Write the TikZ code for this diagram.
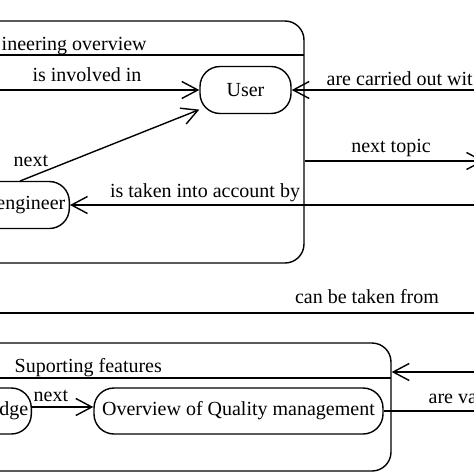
\documentclass[tikz,border=0pt]{standalone}
\usepackage{fontspec}
\setmainfont{Liberation Serif}
\usetikzlibrary{arrows.meta}
\begin{document}
\begin{tikzpicture}[x=1pt,y=-1pt, line width=1.4pt,
  txt/.style={font=\fontsize{20}{24}\selectfont, inner sep=0pt},
  state/.style={draw, rounded corners=20pt, font=\fontsize{20}{24}\selectfont, inner sep=0pt, minimum height=47pt},
  box/.style={draw, rounded corners=19pt, inner sep=0pt},
  arr/.style={-{Straight Barb[length=16pt,width=17pt]}}]
\useasboundingbox (0,0) rectangle (474,474);
\clip (0,0) rectangle (474,474);
% top container
\node[box, minimum width=404pt, minimum height=242pt] (topbox) at (102,142) {};
\coordinate (s1a) at (-100,55);
\coordinate (s1b) at (304,55);
\draw (s1a) -- (s1b);
\node[txt, anchor=base west] (t1) at (1,50) {ineering overview};
% bottom container
\node[box, minimum width=491pt, minimum height=128pt] (botbox) at (145.5,407) {};
\coordinate (s2a) at (-100,378);
\coordinate (s2b) at (391,378);
\draw (s2a) -- (s2b);
\node[txt, anchor=base west] (t2) at (14,372) {Suporting features};
% states
\node[state, minimum width=91pt] (user) at (245.5,90) {User};
\node[state, anchor=east, inner xsep=4pt] (eng) at (70,205) {\hspace*{40pt}engineer};
\node[state, anchor=east, inner xsep=3pt, minimum height=46pt] (dge) at (32,411) {\hspace*{40pt}dge};
\node[state, minimum width=289pt, minimum height=46pt] (qm) at (238.5,411) {Overview of Quality management};
% free ends
\coordinate (iv) at (-10,90);
\coordinate (co) at (480,90);
\coordinate (nt) at (484,161);
\coordinate (ta) at (480,205);
\coordinate (cb1) at (-10,313);
\coordinate (cb2) at (484,313);
\coordinate (va1) at (480,372);
\coordinate (va2) at (480,411);
\coordinate (nx) at (20,181);
% connectors
\draw[arr] (iv) -- (user.west);
\draw[arr] (co) -- (user.east);
\draw[arr] (nx) -- (user.203);
\draw[arr] (topbox.east |- nt) -- (nt);
\draw[arr] (ta) -- (eng.east);
\draw (cb1) -- (cb2);
\draw[arr] (va1) -- (botbox.east |- va1);
\draw (qm.east) -- (va2);
\draw[arr] ([yshift=4pt]dge.east) -- ([yshift=4pt]qm.west);
% labels
\node[txt, anchor=base] (l1) at (87,81) {is involved in};
\node[txt, anchor=base west] (l2) at (13,166) {next};
\node[txt, anchor=base] (l3) at (205,197) {is taken into account by};
\node[txt, anchor=base west] (l4) at (326,85) {are carried out wit};
\node[txt, anchor=base] (l5) at (391,152) {next topic};
\node[txt, anchor=base] (l6) at (367,303) {can be taken from};
\node[txt, anchor=base west] (l8) at (33,401) {next};
\node[txt, anchor=base west] (l9) at (428,403) {are va};
\end{tikzpicture}
\end{document}
